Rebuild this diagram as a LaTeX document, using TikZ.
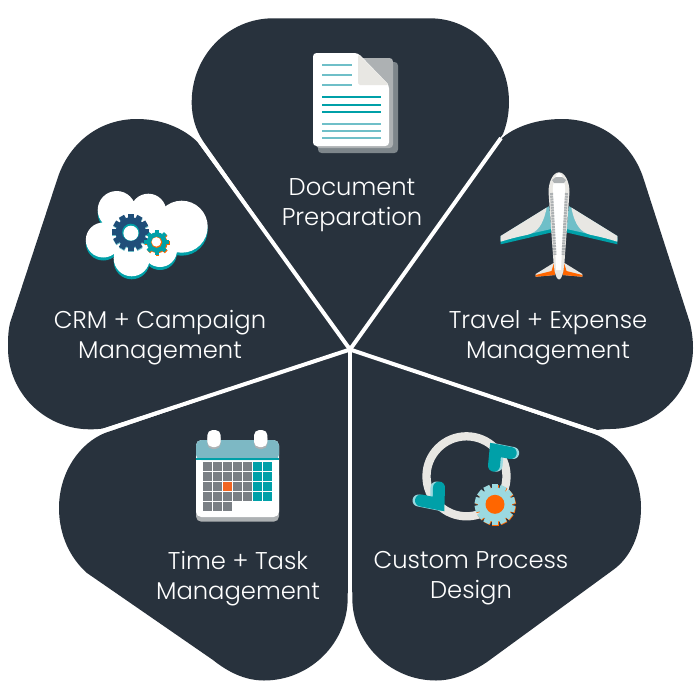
\documentclass[tikz,border=0pt]{standalone}
\usepackage{fontspec}
\setmainfont{Poppins Light}
\definecolor{petalDark}{HTML}{28323D}
\definecolor{paperGrey}{HTML}{E8E7E3}
\definecolor{sheetMid}{HTML}{ADB1B3}
\definecolor{sheetDark}{HTML}{7E868B}
\definecolor{tealDark}{HTML}{00A0A8}
\definecolor{tealMid}{HTML}{6FBFC8}
\definecolor{tealPale}{HTML}{9BD9E0}
\definecolor{headTeal}{HTML}{7DB8C4}
\definecolor{gearBlue}{HTML}{1F4E79}
\definecolor{accentOrange}{HTML}{F26522}
\definecolor{brightOrange}{HTML}{FF6600}
\definecolor{cellGrey}{HTML}{7A7F84}
\newcommand{\Gear}[7]{
    \fill[#7] (#1,#2) circle[radius=#4];
    \foreach \idx in {1,...,#6} {
      \fill[#7, rotate around={\idx*360/#6:(#1,#2)}] ({#1-#3*0.16},{#2-#3}) rectangle ({#1+#3*0.16},{#2-#4+0.5});
    }
    \fill[white] (#1,#2) circle[radius=#5];
}
\newcommand{\HalfPlane}{
    \fill[tealDark] (7.7,227) -- (58.3,238) -- (58.3,244.3) -- (7.7,232.5) -- cycle;
    \fill[tealMid] (9.7,206) -- (58.3,236) -- (58.3,240.5) -- (7.7,229) -- cycle;
    \fill[paperGrey] (12.3,207.5) -- (58.3,236) -- (58.3,241.7) .. controls (48,238.5) and (40,236.5) .. (32.3,235) .. controls (22,232.5) and (16,226) .. (12.3,207.5) -- cycle;
    \fill[paperGrey] (5,262.7) -- (23.3,274) -- (23.3,276.7) -- (4,275) -- cycle;
    \fill[brightOrange] (5,262.7) -- (7.5,271) -- (23.3,275) -- (23.3,276.7) -- (4,275) -- cycle;
}
\tikzset{
    petal/.style={fill=petalDark, draw=none},
    separator/.style={draw=white, line width=0.08cm},
    petallabel/.style={text=white, align=center, font=\fontsize{13.8}{17}\selectfont, inner sep=0pt},
    sheetline/.style={line width=0.036cm},
    chevron/.style={line width=0.24cm, line cap=round, miter limit=10},
}

\begin{document}
\begin{tikzpicture}[x=0.02cm, y=-0.02cm]
    \useasboundingbox (0,0) rectangle (700,700);
    \fill[white] (0,0) rectangle (700,700);
    \coordinate (hub) at (350,349.5);
    \coordinate (sepnw) at (199.5,141);
    \coordinate (sepne) at (501,138);
    \coordinate (sepw) at (102,431);
    \coordinate (sepe) at (598,432.5);
    \coordinate (seps) at (350,640);

    \fill[petal] (hub) -- (203,141) .. controls (196,130) and (191.7,118) .. (191.7,102) .. controls (191.7,56) and (228,18.3) .. (273,18.3) -- (430,18.3) .. controls (474,18.3) and (509,56) .. (509,102) .. controls (509,113) and (507,124) .. (503,134) -- cycle;
    \fill[petal] (hub) -- (497,143) .. controls (510,128) and (535,119) .. (562,119) .. controls (600,119) and (631,142) .. (643,177) -- (690,323) .. controls (692,332) and (693,340) .. (693,348) .. controls (693,393) and (655,429) .. (610,429) .. controls (605,429) and (601,429.5) .. (597,430) -- cycle;
    \fill[petal] (hub) -- (594,434) .. controls (620,443) and (641,472) .. (641,508) .. controls (641,535) and (630,558) .. (613,570) -- (487,662) .. controls (472,672) and (455,680.5) .. (436,680.5) .. controls (390,680.5) and (352.3,643) .. (352.3,598) -- cycle;
    \fill[petal] (hub) -- (347.7,598) .. controls (347.7,643) and (310,680.5) .. (264,680.5) .. controls (245,680.5) and (228,672) .. (213,660) -- (87,573) .. controls (70,558) and (59,535) .. (59,508) .. controls (59,472) and (80,443) .. (105,433) -- cycle;
    \fill[petal] (hub) -- (103,428.5) .. controls (99,429) and (95,429.3) .. (90,429.3) .. controls (45,429.3) and (8,393) .. (8,348) .. controls (8,340) and (8,332) .. (10,323) -- (58,177) .. controls (70,142) and (100,119) .. (137,119) .. controls (160,119) and (182,127) .. (197.5,142) -- cycle;
    \foreach \tip in {sepnw,sepne,sepw,sepe,seps}
      \draw[separator] (hub) -- (\tip);

    % document
    \fill[sheetDark, rounded corners=2pt] (318,62) rectangle (398,153);
    \fill[sheetMid, rounded corners=2pt] (316,58) rectangle (393,148);
    \fill[white, rounded corners=2pt] (313,53) -- (358,53) -- (389,85) -- (389,146) -- (313,146) -- cycle;
    \fill[paperGrey, rounded corners=1pt] (358,54) -- (358,85) -- (389,85) -- cycle;
    \foreach \y in {65.3,75.3,85.3}
      \draw[sheetline, tealMid] (322,\y) -- (352,\y);
    \foreach \y in {97.3,104.7,112}
      \draw[sheetline, tealDark] (322,\y) -- (381,\y);
    \foreach \y in {124,131,138}
      \draw[sheetline, tealMid] (322,\y) -- (381,\y);

    % cloud
    \foreach \dy/\col in {3/tealDark,0/white} {
      \fill[\col] (116.7,210+\dy) circle[radius=19] (148.3,211.7+\dy) circle[radius=18]
        (181.7,226.7+\dy) circle[radius=26] (103.3,240+\dy) circle[radius=17.5]
        (131.7,258.3+\dy) circle[radius=18] (160,250+\dy) circle[radius=17] (140,235+\dy) circle[radius=25];
    }
    \Gear{130.9}{233.4}{18.5}{15}{0}{12}{tealMid}
    \Gear{130.7}{232.3}{18.5}{15}{0}{12}{gearBlue}
    \fill[tealDark] (130.7,232.3) circle[radius=8.6];
    \fill[white] (130.9,233.2) circle[radius=7.5];
    \Gear{157.5}{243.2}{12.3}{10}{0}{8}{brightOrange}
    \Gear{156.7}{242.3}{12.3}{10}{0}{8}{tealDark}
    \fill[brightOrange] (156.7,242.3) circle[radius=5.6];
    \fill[white] (156.3,241.9) circle[radius=4.7];

    % plane
    \begin{scope}[xshift=559*0.02cm]
      \HalfPlane
      \begin{scope}[xscale=-1]
        \HalfPlane
      \end{scope}
      \fill[paperGrey] (0,172.3) .. controls (6,172.3) and (10.5,182) .. (10.5,192) -- (5.5,262) .. controls (4.5,272) and (3,279.5) .. (0,279.5) .. controls (-3,279.5) and (-4.5,272) .. (-5.5,262) -- (-10.5,192) .. controls (-10.5,182) and (-6,172.3) .. (0,172.3) -- cycle;
      \fill[white] (0,173) .. controls (3,173) and (7,184) .. (6,192) -- (2,270) -- (-3,270) -- (-6,192) .. controls (-7,184) and (-3,173) .. (0,173) -- cycle;
      \fill[sheetMid] (-7,180) -- (-3,177) -- (3,177) -- (7,180) -- (5,183) -- (-5,183) -- cycle;
      \draw[sheetMid, line width=0.06cm, dash pattern=on 0.04cm off 0.015cm] (-7.5,193) -- (-4,255);
      \draw[sheetMid, line width=0.06cm, dash pattern=on 0.04cm off 0.015cm] (7.5,193) -- (4,255);
    \end{scope}

    % calendar
    \fill[sheetMid, rounded corners=3pt] (196,470) rectangle (279,521.7);
    \fill[white, rounded corners=3pt] (196,440) rectangle (279,517);
    \fill[headTeal, rounded corners=3pt] (196,440) -- (279,440) -- (279,460) -- (196,460) -- cycle;
    \fill[tealDark] (196,458.3) rectangle (279,460);
    \foreach \x in {207.3,254} {
      \fill[sheetMid, rounded corners=3pt] (\x,433) rectangle (\x+13.4,449);
      \fill[white, rounded corners=3pt] (\x,430) rectangle (\x+13.4,447);
    }
    \foreach \row in {0,...,3}
      \foreach \col in {0,...,6} {
        \ifnum\col>4 \def\cellcol{tealDark}\else\def\cellcol{cellGrey}\fi
        \fill[\cellcol] (203.3+10*\col,462.3+10*\row) rectangle ++(8.3,8.3);
      }
    \fill[accentOrange] (223.3,482.3) rectangle ++(8.3,8.3);
    \foreach \col in {0,1,2}
      \fill[cellGrey] (203.3+10*\col,502.3) rectangle ++(8.3,8.3);

    % process
    \draw[paperGrey, line width=0.166cm] (466.5,476.3) circle[radius=40];
    \foreach \dx/\col in {2.5/tealPale,0/tealDark} {
      \draw[chevron, \col] (510.7+\dx,453) -- (495.5+\dx,450) -- (494+\dx,465.7);
      \draw[chevron, \col] (421-\dx,500.5) -- (438.5-\dx,504) -- (439-\dx,487.5);
    }
    \Gear{495.6}{505.3}{20.3}{17}{0}{14}{brightOrange}
    \Gear{495}{504.6}{20.3}{17}{0}{14}{tealPale}
    \fill[brightOrange] (495,504.3) circle[radius=9.5];

    \node[petallabel] (docpreparation) at (352,205) {Document\\Preparation};
    \node[petallabel] (travelexpense) at (548,337.5) {Travel + Expense\\Management};
    \node[petallabel] (crmcampaign) at (160,337.5) {CRM + Campaign\\Management};
    \node[petallabel] (timetask) at (238,578.5) {Time + Task\\Management};
    \node[petallabel] (customprocess) at (471,578.5) {Custom Process\\Design};
  \end{tikzpicture}
\end{document}
